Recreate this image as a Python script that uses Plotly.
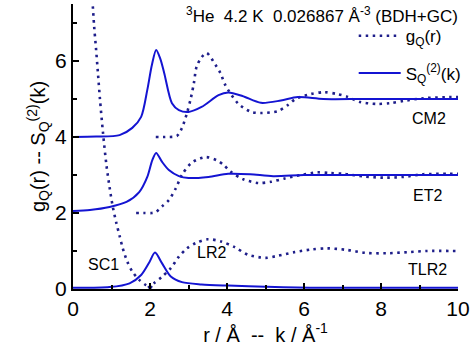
import plotly.graph_objects as go

# ---- data ----
# offsets used to stack the three systems
offset_CM2 = 4.0
offset_ET2 = 2.0
offset_TLR2 = 0.0

# g_Q(r), dotted
sc1_r = [0.48, 0.55, 0.60, 0.65, 0.70, 0.78, 0.87, 0.95, 1.03, 1.13, 1.21, 1.29, 1.41, 1.54, 1.72, 1.90, 2.06]
sc1_g = [8.0, 6.9, 6.3, 5.65, 5.0, 4.1, 3.25, 2.68, 2.18, 1.72, 1.40, 1.08, 0.72, 0.46, 0.24, 0.10, 0.04]

lr2_r = [1.95, 2.10, 2.31, 2.54, 2.75, 2.96, 3.19, 3.50, 3.85, 4.20, 4.55, 5.00, 5.30, 5.75, 6.20, 6.60, 7.10, 7.60, 8.15, 8.70, 9.20, 10.0]
lr2_g = [0.03, 0.15, 0.32, 0.55, 0.85, 1.07, 1.21, 1.31, 1.25, 1.10, 0.90, 0.82, 0.87, 0.97, 1.04, 1.07, 1.03, 0.95, 0.94, 0.97, 1.00, 1.00]

et2_r = [1.64, 1.85, 2.05, 2.16, 2.31, 2.49, 2.67, 2.83, 3.08, 3.44, 3.73, 3.92, 4.09, 4.42, 4.81, 5.14, 5.50, 5.91, 6.35, 6.68, 7.04, 7.56, 8.07, 8.59, 9.10, 9.77, 10.0]
et2_g = [0.0, 0.0, 0.0, 0.03, 0.17, 0.34, 0.65, 1.00, 1.32, 1.47, 1.39, 1.26, 1.09, 0.89, 0.79, 0.82, 0.91, 1.00, 1.07, 1.05, 1.03, 0.96, 0.93, 0.95, 1.02, 1.03, 1.03]

cm2_r = [2.15, 2.40, 2.70, 2.83, 2.96, 3.06, 3.14, 3.21, 3.34, 3.47, 3.70, 3.83, 3.96, 4.29, 4.63, 4.88, 5.32, 5.58, 5.78, 6.17, 6.53, 6.86, 7.12, 7.46, 7.89, 8.23, 8.59, 9.10, 9.77, 10.0]
cm2_g = [0.0, 0.0, 0.03, 0.24, 0.63, 1.02, 1.42, 1.85, 2.10, 2.21, 1.90, 1.68, 1.36, 0.88, 0.66, 0.63, 0.68, 0.84, 1.00, 1.13, 1.18, 1.13, 1.06, 0.92, 0.87, 0.89, 0.95, 1.02, 1.05, 1.05]

# S_Q^(2)(k), solid
cm2_k = [0.0, 0.6, 1.21, 1.54, 1.77, 1.93, 2.05, 2.16, 2.27, 2.37, 2.57, 2.75, 3.00, 3.34, 3.78, 4.03, 4.40, 4.88, 5.40, 5.84, 6.50, 7.50, 8.50, 10.0]
cm2_S = [0.0, 0.01, 0.05, 0.24, 0.53, 1.24, 1.90, 2.29, 2.05, 1.68, 0.89, 0.71, 0.66, 0.79, 1.10, 1.17, 1.08, 0.90, 0.96, 1.05, 1.00, 1.00, 1.00, 1.00]

et2_k = [0.0, 0.44, 0.95, 1.39, 1.72, 1.93, 2.06, 2.16, 2.31, 2.49, 2.75, 3.00, 3.52, 4.03, 4.60, 5.20, 6.00, 7.00, 10.0]
et2_S = [0.05, 0.08, 0.16, 0.29, 0.55, 0.95, 1.39, 1.58, 1.35, 1.13, 0.97, 0.92, 0.95, 1.03, 1.02, 0.97, 1.00, 1.00, 1.00]

tlr2_k = [0.0, 0.95, 1.47, 1.77, 1.98, 2.13, 2.31, 2.54, 2.83, 3.34, 4.03, 5.00, 6.40, 10.0]
tlr2_S = [0.03, 0.05, 0.15, 0.37, 0.70, 0.96, 0.68, 0.33, 0.18, 0.12, 0.09, 0.06, 0.03, 0.03]

x_ticks = [0, 2, 4, 6, 8, 10]
y_ticks = [0, 2, 4, 6]

# ---- styling ----
FONT = "Liberation Sans, Arial, sans-serif"
SOLID = "#1414d2"
DOT = "#1e1e8a"
DOTDASH = "2.5px,4.5px"

fig = go.Figure()

def dotted(x, y, off, name=None, show=False):
    fig.add_trace(go.Scatter(
        x=x, y=[v + off for v in y], mode="lines",
        line=dict(color=DOT, width=2.6, dash=DOTDASH, shape="spline", smoothing=0.8),
        name=name, showlegend=show, legendgroup="g", hoverinfo="skip"))

def solid(x, y, off, name=None, show=False):
    fig.add_trace(go.Scatter(
        x=x, y=[v + off for v in y], mode="lines",
        line=dict(color=SOLID, width=2, shape="spline", smoothing=0.8),
        name=name, showlegend=show, legendgroup="s", hoverinfo="skip"))

dotted(sc1_r, sc1_g, offset_TLR2, "g<sub>Q</sub>(r)", True)
dotted(lr2_r, lr2_g, offset_TLR2)
dotted(et2_r, et2_g, offset_ET2)
dotted(cm2_r, cm2_g, offset_CM2)
solid(cm2_k, cm2_S, offset_CM2, "S<sub>Q</sub><sup>(2)</sup>(k)", True)
solid(et2_k, et2_S, offset_ET2)
solid(tlr2_k, tlr2_S, offset_TLR2)

labels = [("CM2", 9.25, 4.5), ("ET2", 9.2, 2.47), ("TLR2", 9.22, 0.52),
          ("SC1", 0.8, 0.64), ("LR2", 3.6, 0.95)]
for t, x, y in labels:
    fig.add_annotation(x=x, y=y, text=t, showarrow=False,
                       font=dict(family=FONT, size=16, color="black"))

fig.add_annotation(xref="paper", yref="paper", x=1.005, y=1.008, xanchor="right", yanchor="top",
                   text="<sup>3</sup>He  4.2 K  0.026867 Å<sup>-3</sup> (BDH+GC)",
                   showarrow=False, font=dict(family=FONT, size=17, color="black"))

axis_common = dict(showline=True, linecolor="black", linewidth=2, ticks="inside",
                   tickcolor="black", tickwidth=2, ticklen=6, showgrid=False, zeroline=False,
                   tickfont=dict(family=FONT, size=21, color="black"),
                   minor=dict(ticks="inside", ticklen=4, tickwidth=2, tickcolor="black", dtick=1))

fig.update_xaxes(range=[0, 10], tickvals=x_ticks, ticktext=[str(v) for v in x_ticks],
                 title=dict(text="r / Å  --  k / Å<sup>-1</sup>",
                            font=dict(family=FONT, size=20, color="black"), standoff=2),
                 **axis_common)
fig.update_yaxes(range=[0, 7.5], tickvals=y_ticks, ticktext=[str(v) for v in y_ticks],
                 title=dict(text="g<sub>Q</sub>(r) -- S<sub>Q</sub><sup>(2)</sup>(k)",
                            font=dict(family=FONT, size=20, color="black"), standoff=4),
                 **axis_common)

fig.update_layout(
    width=474, height=346,
    margin=dict(l=73, r=12, t=4, b=57),
    plot_bgcolor="white", paper_bgcolor="white",
    legend=dict(x=1.02, y=0.95, xanchor="right", yanchor="top", bgcolor="rgba(0,0,0,0)",
                font=dict(family=FONT, size=17, color="black"), tracegroupgap=12,
                traceorder="grouped", itemwidth=42),
    font=dict(family=FONT),
)

fig.write_html("out.html")
